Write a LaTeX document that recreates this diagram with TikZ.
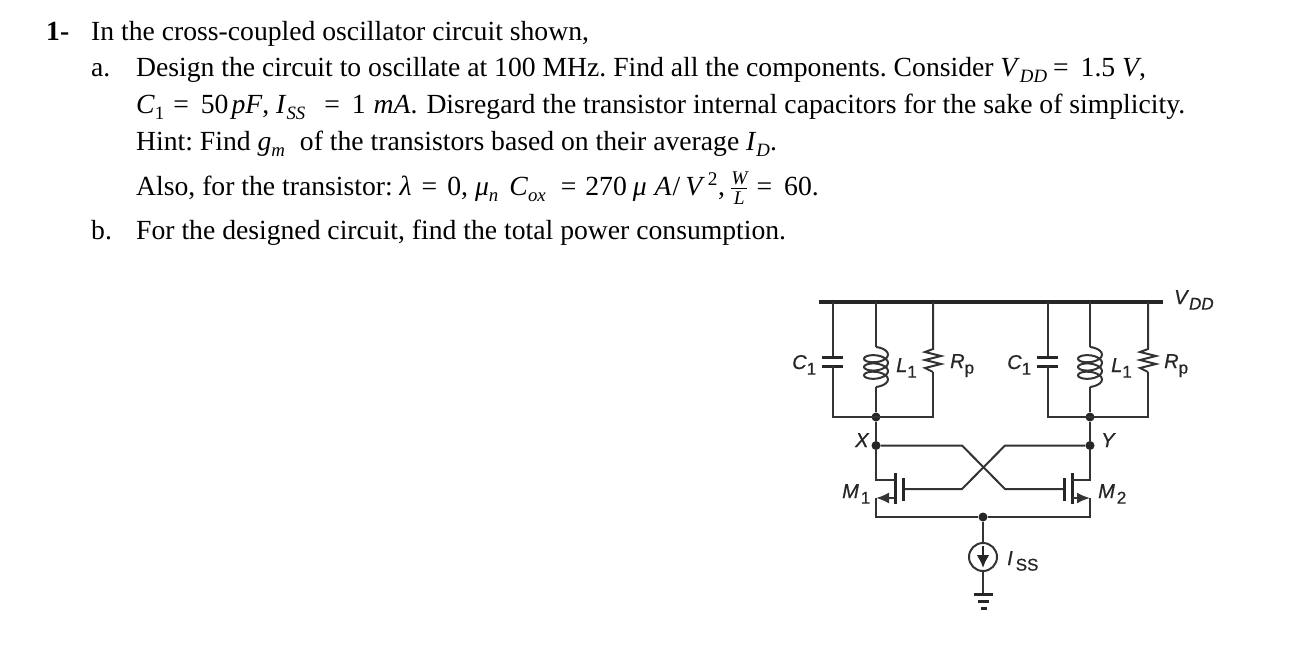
\documentclass[tikz,border=0pt]{standalone}
\usepackage{amsmath}
\usepackage{fontspec}
\setmainfont{Liberation Serif}
\newfontfamily\lblfont[UprightFeatures={FakeBold=0.7},ItalicFeatures={FakeBold=0.7}]{Liberation Sans}
\usetikzlibrary{positioning,arrows.meta}
\newcommand{\lblsub}[2]{\textit{#1}\raisebox{-0.28em}{\scalebox{0.85}{#2}}}
\newcommand{\vsym}[2]{\textit{#1}\raisebox{-0.24em}{\scalebox{0.68}{\textit{#2}}}}
\newcommand{\gapp}[1]{\hspace{#1pt}}

\tikzset{
  txt/.style={anchor=base west,inner sep=0pt,text=black,font=\fontsize{27.66}{30}\selectfont\frenchspacing},
  lbl/.style={anchor=base west,inner sep=0pt,text=black!85,font=\lblfont\fontsize{20}{22}\selectfont},
  wire/.style={draw=black!80,line width=2pt},
  plate/.style={draw=black!85,line width=3pt},
  dot/.style={circle,fill=black!85,inner sep=0pt,minimum size=9pt},
  coilshape/.pic={\draw[wire] plot[smooth,samples=70,domain=0:1260,variable=\t] ({12*sin(\t)},{0.023*\t-5.5*cos(\t)+5.5});}
}

\begin{document}
\begin{tikzpicture}[x=1pt,y=-1pt]
\useasboundingbox (0,0) rectangle (1294,648);

% question text
\node[txt,font=\fontsize{27.66}{30}\selectfont\bfseries] (num) at (46,40) {1-};
\node[txt] (line1) at (91,40) {In the cross-coupled oscillator circuit shown,};
\node[txt] (parta) at (91,76) {a.};
\node[txt] (line2) at (136,76) {Design the circuit to oscillate at 100 MHz. Find all the components. Consider \vsym{V}{DD}\gapp{6}=\gapp{12}1.5 \textit{V},};
\node[txt] (line3) at (136,113) {\vsym{C}{\upshape 1}\gapp{9}=\gapp{12}50\gapp{3}\textit{pF},\gapp{7}\vsym{I}{SS}\gapp{19}=\gapp{12}1\gapp{8}\textit{mA}.\gapp{9}Disregard the transistor internal capacitors for the sake of simplicity.};
\node[txt] (line4) at (136,150) {Hint: Find \vsym{g}{m}\gapp{8} of the transistors based on their average \vsym{I}{D}.};
\node[txt] (line5) at (136,195) {Also, for the transistor: \textit{λ}\gapp{10}=\gapp{10}0,\gapp{7}\vsym{μ}{n}\gapp{11}\vsym{C}{ox}\gapp{15}=\gapp{9}270\gapp{6}\textit{μ}\gapp{8}\textit{A}\gapp{1}/\gapp{5}\textit{V}\gapp{3}\textsuperscript{2},\gapp{5}$\frac{\text{\itshape W}\rule[-3pt]{0pt}{0pt}}{\rule{0pt}{14pt}\text{\itshape L}}$\gapp{8}=\gapp{12}60.};
\node[txt] (partb) at (91,239) {b.};
\node[txt] (line6) at (136,239) {For the designed circuit, find the total power consumption.};

% supply rail
\coordinate (railL) at (819,302);
\coordinate (railR) at (1163,302);
\draw[draw=black!85,line width=3.6pt] (railL) -- (railR);

% left tank
\coordinate (tapC1) at (833,302);
\coordinate (topC1) at (833,357);
\coordinate (botC1) at (833,366);
\coordinate (lowC1) at (833,417);
\coordinate (tapL1) at (876,302);
\coordinate (topL1) at (876,347);
\coordinate (botL1) at (876,387);
\coordinate (tapR1) at (933,302);
\coordinate (topR1) at (933,349);
\coordinate (botR1) at (933,372);
\coordinate (lowR1) at (933,417);
\node[dot] (tank1) at (876,417) {};
\node[dot] (X) at (876,445.5) {};
\draw[wire] (tapC1) -- (topC1);
\draw[plate] (822,357) -- (843,357);
\draw[plate] (822,366) -- (843,366);
\draw[wire] (botC1) -- (lowC1) -- (lowR1) -- (botR1);
\draw[wire] (tapL1) -- (topL1);
\pic at (topL1) {coilshape};
\draw[wire] (botL1) -- (tank1) -- (X);
\draw[wire] (tapR1) -- (topR1) -- ++(-8,3) -- ++(16,4) -- ++(-16,4) -- ++(16,4) -- ++(-16,4) -- ++(8,4);

% right tank
\coordinate (tapC2) at (1048,302);
\coordinate (topC2) at (1048,357);
\coordinate (botC2) at (1048,366);
\coordinate (lowC2) at (1048,417);
\coordinate (tapL2) at (1090,302);
\coordinate (topL2) at (1090,347);
\coordinate (botL2) at (1090,387);
\coordinate (tapR2) at (1148,302);
\coordinate (topR2) at (1148,349);
\coordinate (botR2) at (1148,372);
\coordinate (lowR2) at (1148,417);
\node[dot] (tank2) at (1090,417) {};
\node[dot] (Y) at (1090,445.5) {};
\draw[wire] (tapC2) -- (topC2);
\draw[plate] (1037,357) -- (1058,357);
\draw[plate] (1037,366) -- (1058,366);
\draw[wire] (botC2) -- (lowC2) -- (lowR2) -- (botR2);
\draw[wire] (tapL2) -- (topL2);
\pic at (topL2) {coilshape};
\draw[wire] (botL2) -- (tank2) -- (Y);
\draw[wire] (tapR2) -- (topR2) -- ++(-8,3) -- ++(16,4) -- ++(-16,4) -- ++(16,4) -- ++(-16,4) -- ++(8,4);

% cross coupling
\coordinate (gate1) at (903,489);
\coordinate (gate2) at (1064,489);
\draw[wire] (X) -- (962,445.5) -- (1005,489) -- (gate2);
\draw[wire] (Y) -- (1005,445.5) -- (962,489) -- (gate1);

% transistors
\node[dot] (tail) at (983,517) {};
\coordinate (src1) at (876,498);
\coordinate (src2) at (1090,498);
\draw[plate] (903,478) -- (903,501);
\draw[plate] (895,473) -- (895,504);
\draw[plate] (1064,478) -- (1064,501);
\draw[plate] (1072,473) -- (1072,504);
\draw[wire] (X) -- (876,480) -- (895,480);
\draw[wire] (Y) -- (1090,480) -- (1072,480);
\draw[wire,-{Latex[length=13pt,width=11pt]}] (895,498) -- (src1);
\draw[wire,-{Latex[length=13pt,width=11pt]}] (1072,498) -- (src2);
\draw[wire] (src1) -- (876,517) -- (tail) -- (1090,517) -- (src2);

% tail current source
\node[circle,draw=black!80,line width=2pt,inner sep=0pt,minimum size=28pt] (iss) at (983,557) {};
\coordinate (gnd) at (983,594);
\draw[wire] (tail) -- (iss);
\draw[wire] (iss) -- (gnd);
\draw[draw=black!85,line width=2.6pt,-{Latex[length=13pt,width=13pt]}] (983,546) -- (983,568);
\draw[plate] (974,594) -- (993,594);
\draw[plate] (978,601) -- (989,601);
\draw[plate] (981,608) -- (987,608);

% labels
\node[lbl] (labC1) at (792,369) {\lblsub{C}{1}};
\node[lbl] (labL1) at (896,372) {\lblsub{L}{1}};
\node[lbl] (labR1) at (950,368) {\lblsub{R}{p}};
\node[lbl] (labC2) at (1007,369) {\lblsub{C}{1}};
\node[lbl] (labL2) at (1111,372) {\lblsub{L}{1}};
\node[lbl] (labR2) at (1164,368) {\lblsub{R}{p}};
\node[lbl] (labVDD) at (1174,304) {\lblsub{V}{\itshape DD}};
\node[lbl] (labX) at (855,447) {\textit{X}};
\node[lbl] (labY) at (1101,447) {\textit{Y}};
\node[lbl] (labM1) at (842,498) {\lblsub{M\kern2pt}{1}};
\node[lbl] (labM2) at (1098,498) {\lblsub{M\kern2pt}{2}};
\node[lbl] (labI) at (1007,565) {\lblsub{I\kern3pt}{SS}};
\end{tikzpicture}
\end{document}
